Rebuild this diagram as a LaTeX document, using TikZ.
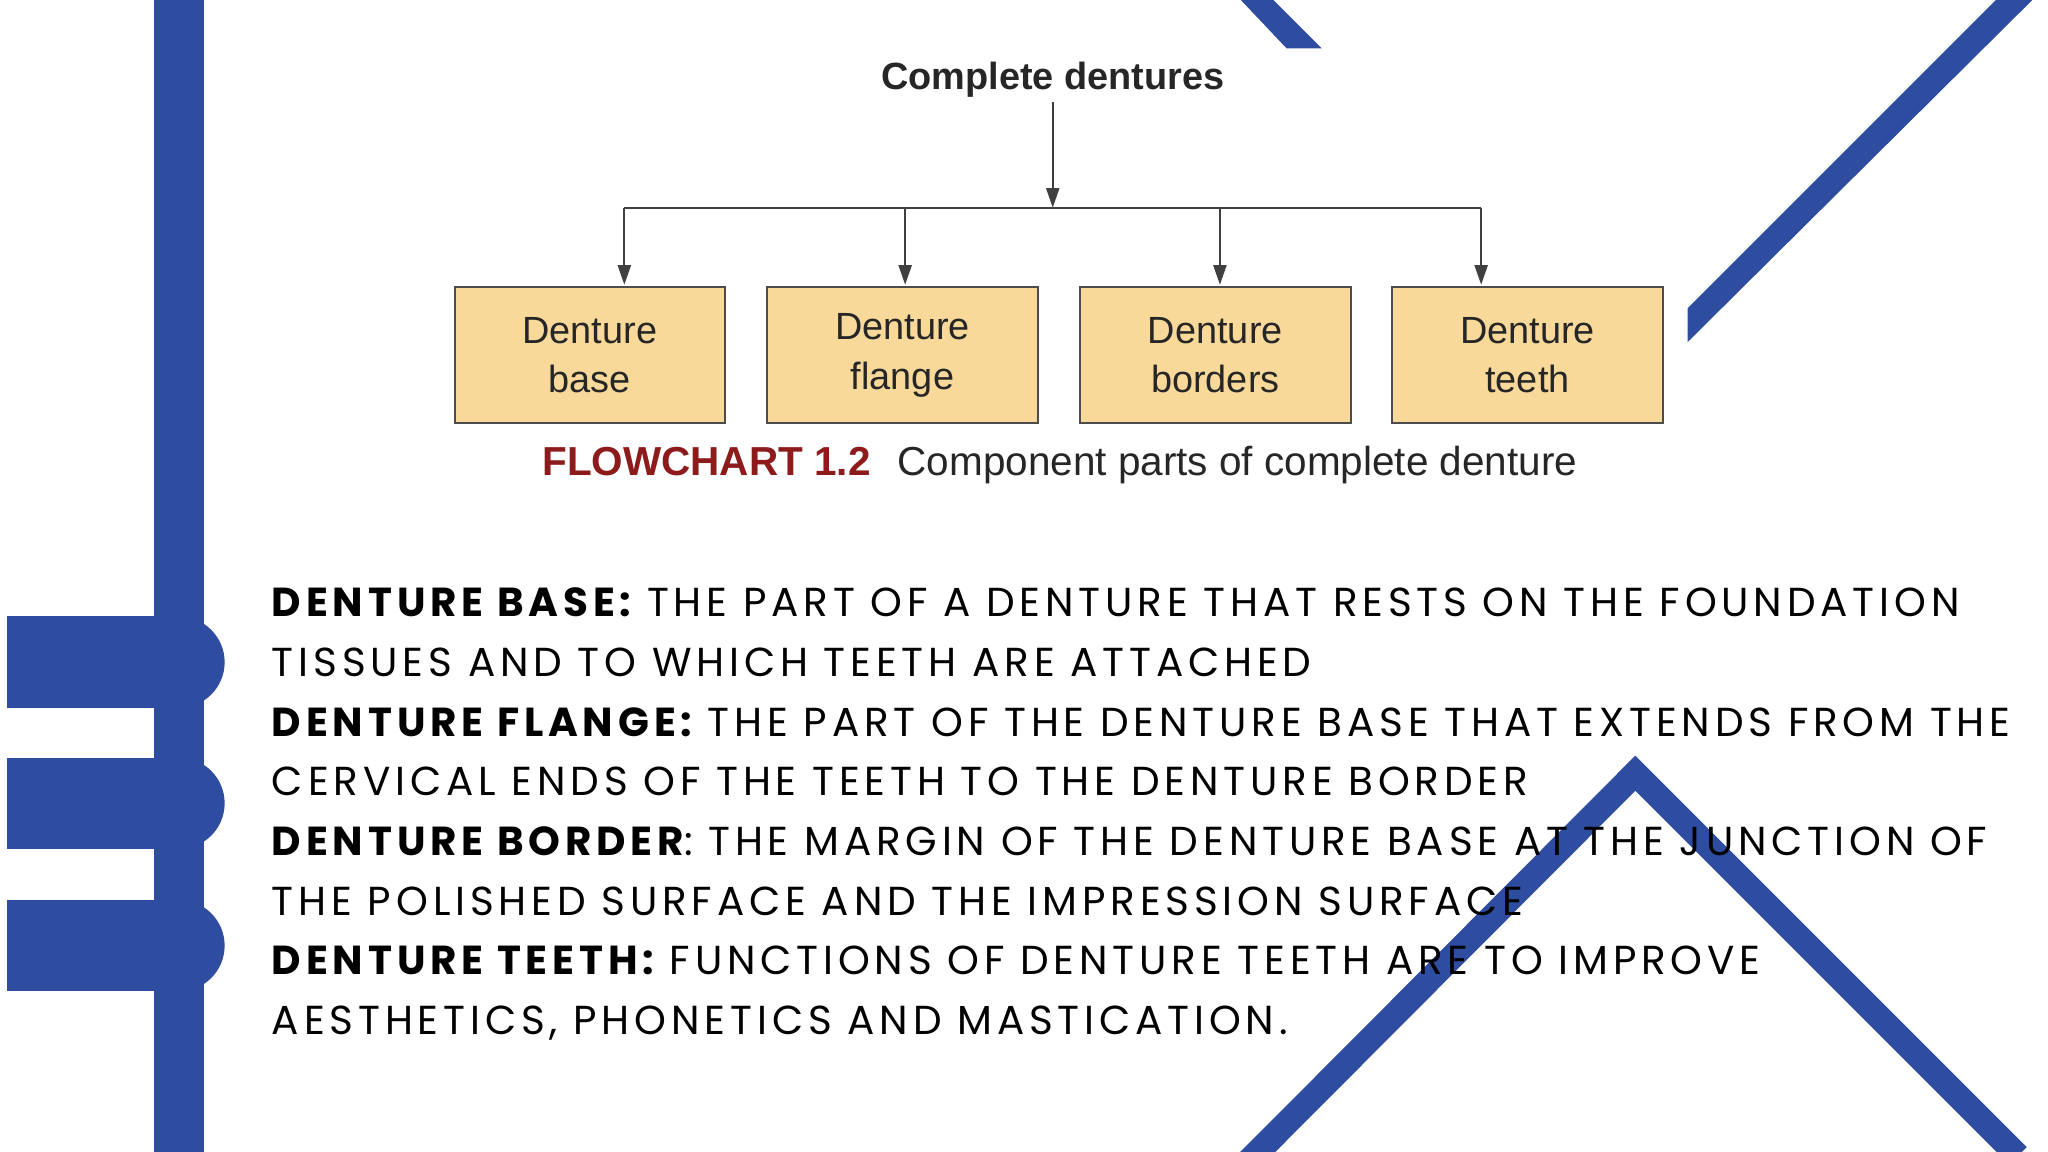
\documentclass[tikz,border=0pt]{standalone}
\usepackage{fontspec}
\setmainfont{Liberation Sans}
\newfontfamily\popp[LetterSpace=12]{Poppins}
\newfontfamily\poppb[LetterSpace=12]{Poppins Bold}
\usetikzlibrary{arrows.meta}
\definecolor{blu}{HTML}{2E4DA0}
\definecolor{boxf}{HTML}{F9D99A}
\definecolor{capred}{HTML}{8E1B1B}
\tikzset{comp/.style={draw=black!70,line width=1.5pt,fill=boxf,minimum width=207pt,minimum height=104pt,align=center,font=\fontsize{29}{38}\selectfont,text=black!85},
arr/.style={-{Triangle[length=15pt,width=10pt]},line width=1.5pt,black!75},
body/.style={anchor=base west,inner sep=0pt,font=\fontsize{31}{34}\selectfont\popp,text=black}}
\begin{document}
\begin{tikzpicture}[x=1pt,y=-1pt]
\useasboundingbox (0,0) rectangle (1568,882);
\fill[white] (0,0) rectangle (1568,882);
% decorations
\fill[blu] (118,0) rectangle (156,882);
\foreach \c in {507,615,724}{
 \fill[blu] (5,\c-35) rectangle (137,\c+35);
 \fill[blu] (137,\c) circle (35);
}
\fill[blu] (950,0) -- (975,0) -- (1012,37) -- (985,37) -- cycle;
\fill[blu] (1528,0) -- (1556,0) -- (1292,262) -- (1292,236) -- cycle;
\draw[blu,line width=19pt] (950,895) -- (1252,592) -- (1545,885);
% flowchart
\node[font=\bfseries\fontsize{29}{32}\selectfont,text=black!85] (top) at (806,61) {Complete dentures};
\node[comp] (b1) at (451.5,272) {Denture\\base};
\node[comp] (b2) at (691,272) {Denture\\flange};
\node[comp] (b3) at (930.5,272) {Denture\\borders};
\node[comp] (b4) at (1169.5,272) {Denture\\teeth};
\coordinate (j) at (806,159);
\draw[arr] (top.south) -- (j);
\draw[line width=1.5pt,black!75] (478,159) -- (1134,159);
\draw[arr] (478,159) -- (478,218);
\draw[arr] (693,159) -- (693,218);
\draw[arr] (934,159) -- (934,218);
\draw[arr] (1134,159) -- (1134,218);
\node[anchor=base west,inner sep=0pt,font=\bfseries\fontsize{31}{34}\selectfont,text=capred] (c1) at (415,364) {FLOWCHART 1.2};
\node[anchor=base west,inner sep=0pt,font=\fontsize{31}{34}\selectfont,text=black!85] (c2) at (687,364) {Component parts of complete denture};
% body text
\node[body] (t1) at (208,472) {{\poppb DENTURE BASE:} THE PART OF A DENTURE THAT RESTS ON THE FOUNDATION};
\node[body] (t2) at (208,518) {TISSUES AND TO WHICH TEETH ARE ATTACHED};
\node[body] (t3) at (208,564) {{\poppb DENTURE FLANGE:} THE PART OF THE DENTURE BASE THAT EXTENDS FROM THE};
\node[body] (t4) at (208,609) {CERVICAL ENDS OF THE TEETH TO THE DENTURE BORDER};
\node[body] (t5) at (208,655) {{\poppb DENTURE BORDER}: THE MARGIN OF THE DENTURE BASE AT THE JUNCTION OF};
\node[body] (t6) at (208,701) {THE POLISHED SURFACE AND THE IMPRESSION SURFACE};
\node[body] (t7) at (208,746) {{\poppb DENTURE TEETH:} FUNCTIONS OF DENTURE TEETH ARE TO IMPROVE};
\node[body] (t8) at (208,792) {AESTHETICS, PHONETICS AND MASTICATION.};
\end{tikzpicture}
\end{document}
